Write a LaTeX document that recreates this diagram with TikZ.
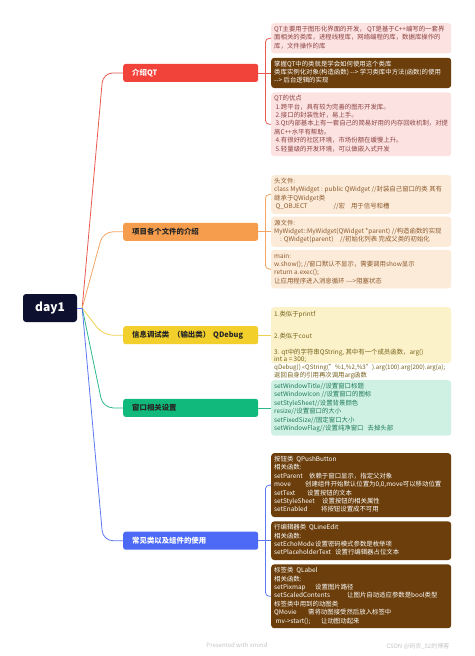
\documentclass[tikz,border=0pt]{standalone}
\usepackage{fontspec}
\setmainfont{Noto Sans CJK SC}
\usepackage{xcolor}
\usepackage{tikz}
\usetikzlibrary{positioning}

\definecolor{rootnavy}{HTML}{0E1030}
\definecolor{qtred}{HTML}{F2433B}
\definecolor{fileorange}{HTML}{F59D4C}
\definecolor{dbgyellow}{HTML}{F3CF2C}
\definecolor{wingreen}{HTML}{12B97C}
\definecolor{useblue}{HTML}{4C6AF5}
\definecolor{pinkleaf}{HTML}{FDE2E2}
\definecolor{pinktext}{HTML}{8A4340}
\definecolor{brownleaf}{HTML}{6B3E0B}
\definecolor{peachleaf}{HTML}{FDEBDA}
\definecolor{peachtext}{HTML}{8B5A2B}
\definecolor{creamleaf}{HTML}{FCF2C9}
\definecolor{creamtext}{HTML}{76621A}
\definecolor{mintleaf}{HTML}{CFF1E4}
\definecolor{minttext}{HTML}{1E7A5A}
\definecolor{redline}{HTML}{E85A52}
\definecolor{orangeline}{HTML}{F2A766}
\definecolor{yellowline}{HTML}{F0D050}
\definecolor{greenline}{HTML}{2CB98A}
\definecolor{blueline}{HTML}{5C78F0}

\newcommand{\fncol}[2]{\makebox[#1][l]{#2}}
\newcommand{\leaflines}[1]{\makebox[174pt][l]{\begin{tabular}{@{}l@{}}#1\end{tabular}}}

\begin{document}
\begin{tikzpicture}[
  x=1pt, y=-1pt,
  root/.style={rectangle, rounded corners=3pt, fill=rootnavy, text=white,
               minimum width=54pt, minimum height=28pt,
               font=\fontsize{12}{14}\selectfont\bfseries},
  branch/.style={rectangle, rounded corners=2.5pt, anchor=west, minimum height=18pt,
                 text width=117pt, inner xsep=9pt, align=left,
                 font=\fontsize{7.4}{9}\selectfont\bfseries},
  leaf/.style={rectangle, rounded corners=3pt, minimum width=180pt, inner xsep=3pt,
               inner ysep=2.5pt, font=\fontsize{6.4}{8.4}\selectfont},
  pinkbox/.style={leaf, fill=pinkleaf, text=pinktext},
  brownbox/.style={leaf, fill=brownleaf, text=white},
  peachbox/.style={leaf, fill=peachleaf, text=peachtext},
  mintbox/.style={leaf, fill=mintleaf, text=minttext},
  link/.style={line width=0.8pt},
  bracket/.style={line width=0.8pt, rounded corners=4pt},
  footer/.style={text=gray!45, font=\fontsize{6}{7}\selectfont},
]
\fill[white] (0,0) rectangle (474,656);
\useasboundingbox (0,0) rectangle (474,656);

% root
\node[root] (day1) at (50,308) {day1};
\coordinate (rootout) at ([xshift=5pt]day1.east);
\coordinate (bx) at (123,0);

% group 1: 介绍QT
\node[pinkbox, anchor=north west] (qt1) at (271,23) {\leaflines{%
  QT主要用于图形化界面的开发， QT是基于C++编写的一套界\\
  面相关的类库，进程线程库，网络编程的库，数据库操作的\\
  库，文件操作的库}};
\node[brownbox, below=4pt of qt1] (qt2) {\leaflines{%
  掌握QT中的类就是学会如何使用这个类库\\
  类库实例化对象(构造函数) {-}{-}> 学习类库中方法(函数)的使用\\
  {-}{-}> 后台逻辑的实现}};
\node[pinkbox, below=4pt of qt2] (qt3) {\leaflines{%
  QT的优点\\
  \ 1.跨平台，具有较为完善的图形开发库。\\
  \ 2.接口的封装性好，易上手。\\
  \ 3.Qt内部基本上有一套自己的简易好用的内存回收机制，对提\\
  高C++水平有帮助。\\
  \ 4.有很好的社区环境，市场份额在缓慢上升。\\
  \ 5.轻量级的开发环境，可以做嵌入式开发}};
\node[branch, fill=qtred, text=white] (qt) at (bx |- qt2) {介绍QT};

% group 2: 项目各个文件的介绍
\node[peachbox, anchor=north west] (file1) at (271,175) {\leaflines{%
  头文件:\\
  class MyWidget : public QWidget //封装自己窗口的类 其有\\
  继承于QWidget类\\
  \ \fncol{58pt}{Q\_OBJECT}//宏\hspace{6pt}用于信号和槽}};
\node[peachbox, below=2.5pt of file1] (file2) {\leaflines{%
  源文件:\\
  MyWidget::MyWidget(QWidget *parent) //构造函数的实现\\
  \hspace{6pt}\fncol{60pt}{: QWidget(parent)}//初始化列表 完成父类的初始化}};
\node[peachbox, below=2.5pt of file2] (file3) {\leaflines{%
  main:\\
  w.show(); //窗口默认不显示，需要调用show显示\\
  return a.exec();\\
  让应用程序进入消息循环 {-}{-}{-}>阻塞状态}};
\node[branch, fill=fileorange, text=black!85] (files) at (bx |- file2) {项目各个文件的介绍};

% group 3: 信息调试类
\node[rectangle, rounded corners=3pt, fill=creamleaf, anchor=north west,
      minimum width=180pt, minimum height=56pt] (dbgbox) at (271,307) {};
\node[leaf, text=creamtext, anchor=north west, font=\fontsize{6.4}{7.6}\selectfont]
  (dbg1) at (271,308) {\leaflines{%
  1.类似于printf\\
  \\
  \\
  2.类似于cout\\
  \\
  3. qt中的字符串QString, 其中有一个成员函数，arg()\\
  int a = 300;\\
  \resizebox{171pt}{!}{qDebug() <<QString(\char"22\%1,\%2,\%3\char"22).arg(100).arg(200).arg(a);}\\
  返回自身的引用再次调用arg函数}};
\node[branch, fill=dbgyellow, text=black!85] (dbg) at (bx |- dbgbox) {信息调试类\hspace{4pt}（输出类）\hspace{3pt}QDebug};

% group 4: 窗口相关设置
\node[mintbox, anchor=north west] (win1) at (271,380) {\leaflines{%
  setWindowTitle//设置窗口标题\\
  setWindowIcon //设置窗口的图标\\
  setStyleSheet//设置背景颜色\\
  resize//设置窗口的大小\\
  setFixedSize//固定窗口大小\\
  setWindowFlag//设置纯净窗口\hspace{4pt}去掉头部}};
\node[branch, fill=wingreen, text=black!85] (win) at (bx |- win1) {窗口相关设置};

% group 5: 常见类以及组件的使用
\node[brownbox, anchor=north west] (use1) at (271,453) {\leaflines{%
  按钮类\hspace{3pt}QPushButton\\
  相关函数:\\
  \fncol{35pt}{setParent}依赖于窗口显示，指定父对象\\
  \fncol{31pt}{move}创建组件开始默认位置为0,0,move可以移动位置\\
  \fncol{33pt}{setText}设置按钮的文本\\
  \fncol{48pt}{setStyleSheet}设置按钮的相关属性\\
  \fncol{47pt}{setEnabled}将按钮设置成不可用}};
\node[brownbox, below=4pt of use1] (use2) {\leaflines{%
  行编辑器类\hspace{3pt}QLineEdit\\
  相关函数:\\
  \fncol{41pt}{setEchoMode}设置密码模式参数是枚举项\\
  \fncol{61pt}{setPlaceholderText}设置行编辑器占位文本}};
\node[brownbox, below=4pt of use2] (use3) {\leaflines{%
  标签类\hspace{3pt}QLabel\\
  相关函数:\\
  \fncol{41pt}{setPixmap}设置图片路径\\
  \fncol{73pt}{setScaledContents}让图片自动适应参数是bool类型\\
  标签类中用到的动图类\\
  \fncol{34pt}{QMovie}需将动图接受然后放入标签中\\
  \fncol{47pt}{\ mv->start();}让动图动起来}};
\node[branch, fill=useblue, text=white] (use) at (bx |- use2) {常见类以及组件的使用};

% root to branches
\draw[link, blueline] (day1) -- (rootout);
\foreach \b/\c in {qt/redline, files/orangeline, dbg/yellowline, win/greenline, use/blueline}
  \draw[link, \c, rounded corners=10pt] (rootout) -- ([xshift=-20pt]\b.west) -- (\b.west);

% branches to leaves
\coordinate[right=7pt of qt.east] (qthub);
\draw[link, redline] (qt) -- (qthub) -- (qt2);
\draw[bracket, redline] (qthub) |- (qt1.west);
\draw[bracket, redline] (qthub) |- (qt3.west);

\coordinate[right=7pt of files.east] (filehub);
\draw[link, orangeline] (files) -- (filehub) -- (file2);
\draw[bracket, orangeline] (filehub) |- (file1.west);
\draw[bracket, orangeline] (filehub) |- (file3.west);

\draw[link, yellowline] (dbg) -- (dbgbox);
\draw[link, greenline] (win) -- (win1);

\coordinate[right=7pt of use.east] (usehub);
\draw[link, blueline] (use) -- (usehub) -- (use2);
\draw[bracket, blueline] (usehub) |- (use1.west);
\draw[bracket, blueline] (usehub) |- (use3.west);

% footer
\node[footer] (credit) at (237,645) {Presented with xmind};
\node[footer, anchor=west] (csdn) at (383,646) {CSDN @码农\_52的博客};
\end{tikzpicture}
\end{document}
